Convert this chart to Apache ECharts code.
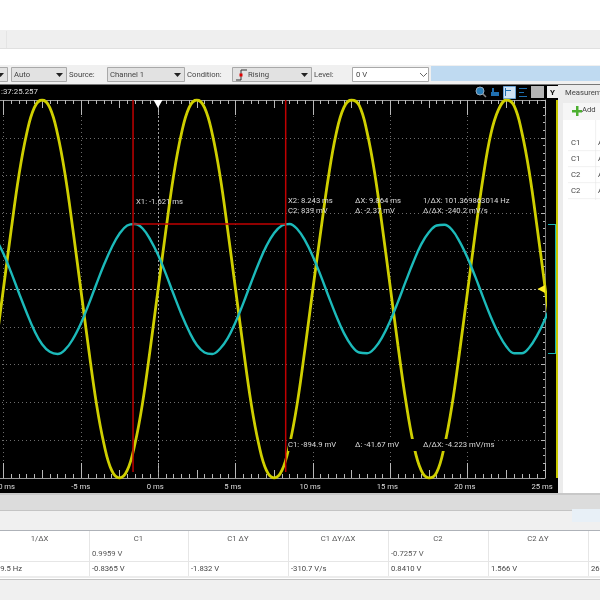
<!DOCTYPE html>
<html>
<head>
<meta charset="utf-8">
<script src="https://cdn.jsdelivr.net/npm/echarts@6/dist/echarts.min.js"></script>
<style>
html, body { margin: 0; padding: 0; background: #fff; }
#main { width: 600px; height: 600px; }
</style>
</head>
<body>
<div id="main"></div>
<script>
var time_ms = [-10.5,-10,-9.5,-9,-8.5,-8,-7.5,-7,-6.5,-6,-5.5,-5,-4.5,-4,-3.5,-3,-2.5,-2,-1.5,-1,-0.5,
    0,0.5,1,1.5,2,2.5,3,3.5,4,4.5,5,5.5,6,6.5,7,7.5,8,8.5,9,9.5,
    10,10.5,11,11.5,12,12.5,13,13.5,14,14.5,15,15.5,16,16.5,17,17.5,18,18.5,19,19.5,
    20,20.5,21,21.5,22,22.5,23,23.5,24,24.5,25,25.5];
// channel 1, yellow, clipped at +-1 V
var c1_volts = [-0.31,0,0.31,0.6,0.82,0.96,1,0.96,0.82,0.6,0.31,0,-0.31,-0.6,-0.82,-0.96,-1,-0.96,-0.82,-0.6,-0.31,
    0,0.31,0.6,0.82,0.96,1,0.96,0.82,0.6,0.31,0,-0.31,-0.6,-0.82,-0.96,-1,-0.96,-0.82,-0.6,-0.31,
    0,0.3,0.59,0.82,0.96,1,0.97,0.83,0.61,0.32,0.01,-0.3,-0.59,-0.82,-0.96,-1,-0.97,-0.83,-0.61,-0.32,
    -0.01,0.3,0.59,0.82,0.95,1,0.97,0.83,0.61,0.32,0.01,-0.3];
// channel 2, teal
var c2_volts = [0.67,0.47,0.22,-0.05,-0.31,-0.55,-0.73,-0.83,-0.86,-0.80,-0.66,-0.46,-0.21,0.06,0.32,0.55,0.73,0.84,0.86,0.80,0.65,
    0.45,0.20,-0.07,-0.33,-0.56,-0.74,-0.84,-0.86,-0.79,-0.65,-0.44,-0.19,0.08,0.34,0.57,0.74,0.84,0.86,0.79,0.64,
    0.43,0.18,-0.09,-0.35,-0.58,-0.75,-0.84,-0.85,-0.78,-0.63,-0.42,-0.17,0.10,0.36,0.59,0.75,0.84,0.85,0.78,0.62,
    0.41,0.16,-0.11,-0.37,-0.59,-0.76,-0.85,-0.85,-0.77,-0.61,-0.40,-0.15];
var cursor_ms = [-1.621, 8.243];
var cursor_volts = 0.86;

var table_heads = ['1/ΔX','C1','C1 ΔY','C1 ΔY/ΔX','C2','C2 ΔY'];
var table_row1 = ['','0.9959 V','','','-0.7257 V',''];
var table_row2 = ['9.5 Hz','-0.8365 V','-1.832 V','-310.7 V/s','0.8410 V','1.566 V','265'];

var FONT = 'Roboto, "Liberation Sans", sans-serif';
var SIZE = 7.7;
var gfx = [];      // chrome, under the traces
var overlay = [];  // drawn over the traces by a custom series

function box(x, y, w, h, fill, stroke, list) {
    (list || gfx).push({type:'rect', silent:true, shape:{x:x,y:y,width:w,height:h},
        style:{fill:fill, stroke:stroke || null, lineWidth:1}});
}
function txt(s, x, y, color, size, align, list, weight) {
    (list || gfx).push({type:'text', silent:true, x:x, y:y,
        style:{text:s, fill:color, font:(weight || 'normal') + ' ' + (size || SIZE) + 'px ' + FONT,
            align:align || 'left', verticalAlign:'middle'}});
}
function tri(points, fill, list) {
    (list || gfx).push({type:'polygon', silent:true, shape:{points:points}, style:{fill:fill}});
}
function pline(points, color, w) {
    gfx.push({type:'polyline', silent:true, shape:{points:points},
        style:{stroke:color, lineWidth:w || 1, fill:null}});
}
function combo(x, w, label) {
    box(x + 0.5, 67.5, w, 14, '#e2e2e2', '#a9a9a9');
    txt(label, x + 3, 75, '#444');
    tri([[x + w - 10, 73],[x + w - 3, 73],[x + w - 6.5, 77]], '#222');
}

// window chrome
box(0, 30, 600, 18, '#efefef');
box(0, 48, 600, 1, '#e0e0e0');
box(6, 31, 1, 17, '#e4e4e4');
box(0, 65, 600, 19, '#f0f0f0');
combo(-20, 27, '');
combo(11, 55, 'Auto');
txt('Source:', 69, 75, '#444');
combo(107, 77, 'Channel 1');
txt('Condition:', 187, 75, '#444');
combo(232, 79, '');
pline([[236,80],[241,80],[241,70],[247,70]], '#333', 1);
box(239.5, 73.5, 3, 3, '#e00000');
txt('Rising', 248, 75, '#444');
txt('Level:', 314, 75, '#444');
box(352.5, 67.5, 76, 14, '#fff', '#a9a9a9');
txt('0 V', 356, 75, '#444');
pline([[420,73],[423.5,76.5],[427,73]], '#666', 1);
box(431, 66, 169, 15, '#bfdaf1');

// scope area
box(0, 84, 600, 1, '#777');
box(0, 85, 558, 408, '#000');
txt(':37:25.257', 1, 92.5, '#ddd', 7.9);

// scope icons
gfx.push({type:'circle', silent:true, shape:{cx:480,cy:91,r:4}, style:{fill:'#2b7fb8', stroke:'#9ab', lineWidth:1}});
pline([[483,94],[486,97]], '#888', 1.5);
box(491, 92, 8, 4, '#1f6fb0');
box(492, 88, 2, 4, '#1f6fb0');
box(503.5, 86.5, 12, 12, '#cfe3f5', '#6aa3d6');
box(505, 88, 1, 8, '#1f6fb0');
box(505, 90, 6, 1, '#1f6fb0');
box(519, 88, 8, 1, '#1f6fb0');
box(519, 92, 5, 1, '#1f6fb0');
box(519, 96, 8, 1, '#1f6fb0');
box(531, 86, 13, 12, '#b5b5b5');
box(547, 86, 11, 12, '#eee');
txt('Y', 552.5, 92.5, '#111', 8, 'center', null, 'bold');

// measurements panel
box(558, 85, 42, 408, '#ececec');
box(563, 103, 37, 17, '#f6f6f6');
box(563, 120, 37, 373, '#fff');
txt('Measurements', 565, 93, '#444');
box(576, 106, 2.5, 10, '#4caf30');
box(572, 110, 10, 2.5, '#4caf30');
txt('Add', 582, 110, '#444');
var panel_rows = ['C1','C1','C2','C2'];
panel_rows.forEach(function(name, i){
    var y = 143 + i * 16;
    txt(name, 571, y, '#444');
    txt('A', 598, y, '#444');
    box(568, y + 7.5, 32, 0.6, '#e6e6e6');
});
box(595.5, 120, 0.6, 80, '#e6e6e6');

// lower panel
box(0, 493, 600, 17, '#dcdcdc');
box(0, 493, 600, 2, '#c8c8c8');
box(0, 510, 600, 1, '#c4c4c4');
box(0, 511, 600, 19, '#f0f0f0');
box(572, 509, 28, 13, '#e8f0f7');
box(0, 530, 600, 1, '#aeb2b8');
box(0, 531, 600, 45, '#fff');
box(0, 561, 600, 1, '#e6e6e6');
box(0, 576, 600, 2, '#ececec');
box(0, 579, 600, 1.2, '#c2c2c2');
box(0, 580.2, 600, 20, '#f0f0f0');
var col_x = [-10, 89, 188, 288, 388, 488, 588];
col_x.forEach(function(x){ box(x, 531, 1, 45, '#e6e6e6'); });
table_heads.forEach(function(h, i){
    txt(h, (col_x[i] + col_x[i + 1]) / 2, 539, '#555', SIZE, 'center');
    if (table_row1[i]) txt(table_row1[i], col_x[i] + 3, 554, '#555');
});
table_row2.forEach(function(v, i){
    if (i == 0) txt(v, 22, 569, '#444', SIZE, 'right');
    else txt(v, col_x[i] + 3, 569, '#444');
});

// things above the traces: trigger markers, channel strip, cursor readouts
tri([[153.5,100],[162.5,100],[158,108]], '#fff', overlay);
tri([[537.5,289],[545,285],[545,293]], '#ffee22', overlay);
box(555, 224, 1.5, 129, '#19b5b5', null, overlay);
box(548, 224, 8, 1, '#19b5b5', null, overlay);
box(548, 353, 8, 1, '#19b5b5', null, overlay);
box(556, 100, 2, 378, '#c8c800', null, overlay);
box(288, 439, 204, 12, '#000', null, overlay);
var readouts = [
    ['X1: -1.621 ms',136,202], ['X2: 8.243 ms',288,201], ['C2: 839 mV',288,211],
    ['ΔX: 9.864 ms',355,201], ['Δ: -2.37 mV',355,211],
    ['1/ΔX: 101.369863014 Hz',423,201], ['Δ/ΔX: -240.2 mV/s',423,211],
    ['C1: -894.9 mV',288,445], ['Δ: -41.67 mV',355,445], ['Δ/ΔX: -4.223 mV/ms',423,445]
];
readouts.forEach(function(r){ txt(r[0], r[1], r[2], '#ddd', SIZE, 'left', overlay); });

function pairs(xs, ys) {
    return xs.map(function(x, i){ return [x, ys[i]]; });
}

var tickColor = '#b8b8b8';
function timeAxis(pos, withLabel, step, tickLen, minorLen) {
    return {
        type:'value', position:pos, min:-15, max:25, interval:step,
        axisLine:{show:withLabel, onZero:false, lineStyle:{color:'#9a9a9a', width:1}},
        axisTick:{show:true, inside:true, length:tickLen, lineStyle:{color:tickColor}},
        minorTick:{show:minorLen > 0, splitNumber:10, length:minorLen, lineStyle:{color:tickColor}},
        axisLabel:{show:withLabel && pos == 'bottom', color:'#ddd', fontSize:SIZE, fontFamily:FONT, margin:5,
            formatter:function(v){
                // positive labels sit a little left of their tick
                return v + ' ms' + (v >= 0 ? '\u00a0\u00a0\u00a0' : '');
            }},
        splitLine:{show:withLabel && pos == 'bottom', lineStyle:{color:'#6c6c6c', width:1, type:[1,3]}},
        minorSplitLine:{show:false}
    };
}

var myChart = echarts.init(document.getElementById('main'));
var option = {
    animation:false,
    backgroundColor:'#fff',
    grid:{left:-74, top:100, width:619, height:378, show:false, outerBoundsMode:'none', containLabel:false},
    xAxis:[
        timeAxis('bottom', true, 5, 15, 4),
        timeAxis('top', true, 5, 15, 4),
        timeAxis('bottom', false, 2.5, 8, 0),
        timeAxis('top', false, 2.5, 8, 0)
    ],
    yAxis:[
        {
            type:'value', position:'right', min:-2.5, max:2.5, interval:0.5,
            axisLine:{show:true, onZero:false, lineStyle:{color:'#777'}},
            axisTick:{show:true, inside:true, length:4, lineStyle:{color:tickColor}},
            minorTick:{show:true, splitNumber:5, length:2, lineStyle:{color:tickColor}},
            axisLabel:{show:false},
            splitLine:{show:true, lineStyle:{color:'#6c6c6c', width:1, type:[1,3]}}
        },
        {type:'value', min:-1, max:1, show:false, splitLine:{show:false}}
    ],
    graphic:{elements:gfx},
    series:[
        {
            name:'C1', type:'line', xAxisIndex:0, yAxisIndex:1, smooth:0.4, showSymbol:false, silent:true,
            lineStyle:{color:'#cfcf00', width:2.8},
            data:pairs(time_ms, c1_volts)
        },
        {
            name:'C2', type:'line', xAxisIndex:0, yAxisIndex:0, smooth:0.4, showSymbol:false, silent:true,
            lineStyle:{color:'#1cbaba', width:2.4},
            data:pairs(time_ms, c2_volts),
            markLine:{
                silent:true, symbol:'none', label:{show:false}, z:1,
                lineStyle:{color:'#a0a0a0', width:1, type:[2,2]},
                data:[{xAxis:0},{yAxis:0}]
            }
        },
        {
            name:'cursors', type:'line', xAxisIndex:0, yAxisIndex:0, showSymbol:false, silent:true,
            lineStyle:{color:'#c00000', width:1.5},
            data:[[cursor_ms[0],-2.42],[cursor_ms[0],2.5],[cursor_ms[0],cursor_volts],[cursor_ms[1],cursor_volts],
                [cursor_ms[1],2.5],[cursor_ms[1],-2.42]]
        },
        {
            name:'overlay', type:'custom', coordinateSystem:'none', z:10, silent:true,
            data:overlay.map(function(o, i){ return [i]; }),
            renderItem:function(params){ return overlay[params.dataIndex]; }
        }
    ]
};
myChart.setOption(option);
</script>
</body>
</html>
